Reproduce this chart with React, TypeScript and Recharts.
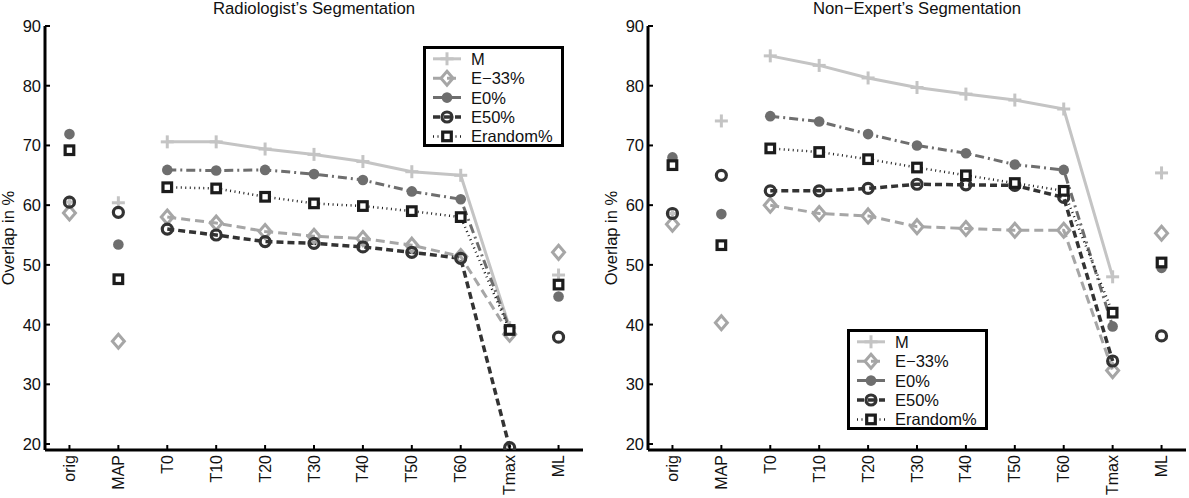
import React from 'react';
import { LineChart, Line, XAxis, YAxis, Legend } from 'recharts';

// ---------- data ----------
const categories = ['orig', 'MAP', 'T0', 'T10', 'T20', 'T30', 'T40', 'T50', 'T60', 'Tmax', 'ML'];
// which categories belong to the connected T-sweep
const connected = [false, false, true, true, true, true, true, true, true, true, false];
const yTicks = [20, 30, 40, 50, 60, 70, 80, 90];
const seriesNames = ['M', 'E\u221233%', 'E0%', 'E50%', 'Erandom%'];

// Radiologist's segmentation
const radM = [60.5, 60.4, 70.6, 70.6, 69.4, 68.5, 67.3, 65.6, 65.0, 39.5, 48.3];
const radE33 = [58.7, 37.2, 58.0, 57.0, 55.6, 54.8, 54.4, 53.3, 51.4, 38.4, 52.1];
const radE0 = [71.9, 53.4, 65.9, 65.8, 65.9, 65.2, 64.2, 62.3, 61.0, 39.3, 44.7];
const radE50 = [60.5, 58.8, 56.0, 55.0, 53.9, 53.6, 53.0, 52.1, 51.1, 19.4, 37.9];
const radErand = [69.2, 47.6, 63.0, 62.8, 61.4, 60.3, 59.85, 59.0, 58.0, 39.1, 46.7];

// Non-expert's segmentation
const nonM = [58.6, 74.1, 85.0, 83.4, 81.3, 79.7, 78.6, 77.6, 76.1, 48.0, 65.4];
const nonE33 = [56.8, 40.3, 60.0, 58.6, 58.2, 56.4, 56.1, 55.8, 55.8, 32.3, 55.3];
const nonE0 = [68.0, 58.5, 74.9, 74.0, 71.9, 70.0, 68.7, 66.8, 65.9, 39.7, 49.5];
const nonE50 = [58.6, 65.0, 62.4, 62.4, 62.8, 63.5, 63.4, 63.3, 61.3, 33.9, 38.1];
const nonErand = [66.7, 53.3, 69.5, 68.9, 67.7, 66.3, 65.0, 63.7, 62.4, 42.0, 50.4];

// ---------- styles ----------
const FONT = '"Liberation Sans", Arial, Helvetica, sans-serif';
type Kind = 'plus' | 'diamond' | 'dot' | 'circle' | 'square';
const seriesStyle: { key: string; color: string; width: number; dash?: string; kind: Kind }[] = [
  { key: 'M', color: '#c4c4c4', width: 3, dash: undefined, kind: 'plus' },
  { key: 'E33', color: '#a6a6a6', width: 3, dash: '9 5', kind: 'diamond' },
  { key: 'E0', color: '#6e6e6e', width: 3, dash: '9 4 2 4', kind: 'dot' },
  { key: 'E50', color: '#333333', width: 3.5, dash: '7 4', kind: 'circle' },
  { key: 'ER', color: '#1c1c1c', width: 2.5, dash: '1 3.5', kind: 'square' },
];

function buildRows(series: number[][]) {
  return categories.map((c, i) => {
    const row: any = { i, cat: c };
    seriesStyle.forEach((s, k) => {
      row[s.key + '_l'] = connected[i] ? series[k][i] : null;
      row[s.key + '_p'] = connected[i] ? null : series[k][i];
    });
    return row;
  });
}

const radRows = buildRows([radM, radE33, radE0, radE50, radErand]);
const nonRows = buildRows([nonM, nonE33, nonE0, nonE50, nonErand]);

const Marker = ({ kind, color, cx, cy }: { kind: Kind; color: string; cx: number; cy: number }) => {
  switch (kind) {
    case 'plus':
      return (
        <g>
          <line x1={cx - 6.5} x2={cx + 6.5} y1={cy} y2={cy} stroke={color} strokeWidth={3} />
          <line x1={cx} x2={cx} y1={cy - 6.5} y2={cy + 6.5} stroke={color} strokeWidth={3} />
        </g>
      );
    case 'diamond':
      return (
        <polygon
          points={`${cx},${cy - 7} ${cx + 6},${cy} ${cx},${cy + 7} ${cx - 6},${cy}`}
          fill="none"
          stroke={color}
          strokeWidth={3}
        />
      );
    case 'dot':
      return <circle cx={cx} cy={cy} r={5.3} fill={color} />;
    case 'circle':
      return <circle cx={cx} cy={cy} r={5} fill="none" stroke={color} strokeWidth={3.2} />;
    case 'square':
      return <rect x={cx - 4.3} y={cy - 4.3} width={8.6} height={8.6} fill="#fff" stroke={color} strokeWidth={3.2} />;
  }
  return null;
};

const makeDot = (kind: Kind, color: string, tag: string) => (props: any) => {
  const { cx, cy, value, index } = props;
  const k = `${tag}-${index}`;
  if (value == null || cx == null || cy == null || isNaN(cx) || isNaN(cy)) return <g key={k} />;
  return (
    <g key={k}>
      <Marker kind={kind} color={color} cx={cx} cy={cy} />
    </g>
  );
};

const XTick = (props: any) => {
  const { x, y, payload } = props;
  const ty = y + 5;
  return (
    <g>
      <line x1={x} x2={x} y1={y} y2={y - 5} stroke="#000" strokeWidth={2} />
      <text
        x={x}
        y={ty}
        transform={`rotate(-90 ${x} ${ty})`}
        textAnchor="end"
        dominantBaseline="central"
        fontSize={16}
        fontFamily={FONT}
        fill="#111"
      >
        {categories[payload.value]}
      </text>
    </g>
  );
};

const Y_TICK_MARGIN = 4;
const YTick = (props: any) => {
  const { x, y, payload } = props;
  const ax = x + Y_TICK_MARGIN;
  return (
    <g>
      <line x1={ax} x2={ax + 5} y1={y} y2={y} stroke="#000" strokeWidth={2} />
      <text x={x} y={y} textAnchor="end" dominantBaseline="central" fontSize={16.5} fontFamily={FONT} fill="#111">
        {payload.value}
      </text>
    </g>
  );
};

const YLabel = () => (
  <text
    x={14}
    y={238}
    transform="rotate(-90 14 238)"
    textAnchor="middle"
    fontSize={16.5}
    fontFamily={FONT}
    fill="#111"
  >
    Overlap in %
  </text>
);

const LegendBox = () => (
  <svg width={141} height={101} style={{ display: 'block', overflow: 'visible' }}>
    <rect x={1.5} y={1.5} width={138} height={98} fill="#fff" stroke="#000" strokeWidth={3} />
    {seriesStyle.map((s, k) => {
      const cy = 12.8 + k * 19.4;
      return (
        <g key={s.key}>
          <line x1={10} x2={38} y1={cy} y2={cy} stroke={s.color} strokeWidth={s.width} strokeDasharray={s.dash} />
          <Marker kind={s.kind} color={s.color} cx={24} cy={cy} />
          <text x={48} y={cy} dominantBaseline="central" fontSize={16.5} fontFamily={FONT} fill="#111">
            {seriesNames[k]}
          </text>
        </g>
      );
    })}
  </svg>
);

const Panel = ({
  rows,
  width,
  rightMargin,
  legendLeft,
  legendTop,
  tag,
}: {
  rows: any[];
  width: number;
  rightMargin: number;
  legendLeft: number;
  legendTop: number;
  tag: string;
}) => (
  <LineChart width={width} height={498} data={rows} margin={{ top: 26, right: rightMargin, bottom: 0, left: 0 }}>
    <XAxis
      dataKey="i"
      type="number"
      domain={[-0.5, 10.5]}
      ticks={categories.map((_, i) => i)}
      interval={0}
      allowDataOverflow
      height={48}
      tickSize={0}
      tickMargin={0}
      tickLine={false}
      axisLine={{ stroke: '#000', strokeWidth: 3 }}
      tick={<XTick />}
    />
    <YAxis
      type="number"
      domain={[19, 90]}
      ticks={yTicks}
      interval={0}
      allowDataOverflow
      width={45}
      tickSize={0}
      tickMargin={Y_TICK_MARGIN}
      tickLine={false}
      axisLine={{ stroke: '#000', strokeWidth: 3 }}
      tick={<YTick />}
      label={{ content: () => <YLabel /> }}
    />
    <Legend
      layout="vertical"
      align="center"
      verticalAlign="middle"
      wrapperStyle={{ left: legendLeft, top: legendTop, width: 141, height: 101 }}
      content={() => <LegendBox />}
    />
    {seriesStyle.flatMap((s) => [
      <Line
        key={s.key + '_l'}
        dataKey={s.key + '_l'}
        stroke={s.color}
        strokeWidth={s.width}
        strokeDasharray={s.dash}
        strokeLinejoin="round"
        dot={makeDot(s.kind, s.color, tag + s.key + 'l')}
        activeDot={false}
        connectNulls={false}
        isAnimationActive={false}
      />,
      <Line
        key={s.key + '_p'}
        dataKey={s.key + '_p'}
        stroke="none"
        strokeWidth={0}
        dot={makeDot(s.kind, s.color, tag + s.key + 'p')}
        activeDot={false}
        connectNulls={false}
        isAnimationActive={false}
      />,
    ])}
  </LineChart>
);

const titleStyle: React.CSSProperties = {
  position: 'absolute',
  top: 0,
  fontFamily: FONT,
  fontSize: 16.7,
  lineHeight: '18px',
  color: '#111',
  textAlign: 'center',
  whiteSpace: 'nowrap',
};

export default function App() {
  return (
    <div style={{ position: 'absolute', left: 0, top: 0, width: 1189, height: 498, background: '#fff', overflow: 'hidden' }}>
      <div style={{ position: 'absolute', left: 0, top: 0 }}>
        <Panel rows={radRows} width={600} rightMargin={17} legendLeft={423} legendTop={46} tag="r" />
      </div>
      <div style={{ position: 'absolute', left: 603, top: 0 }}>
        <Panel rows={nonRows} width={586} rightMargin={3} legendLeft={243.5} legendTop={329} tag="n" />
      </div>
      <div style={{ ...titleStyle, left: 114, width: 400 }}>Radiologist’s Segmentation</div>
      <div style={{ ...titleStyle, left: 717, width: 400 }}>Non{'\u2212'}Expert’s Segmentation</div>
    </div>
  );
}
